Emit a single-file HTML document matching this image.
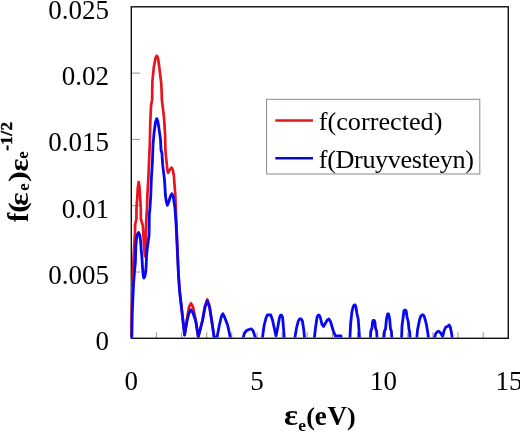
<!DOCTYPE html>
<html><head><meta charset="utf-8"><title>EEDF</title>
<style>
html,body{margin:0;padding:0;background:#fff;}
body{width:520px;height:431px;overflow:hidden;}
svg{display:block;font-family:"Liberation Serif",serif;}
.tl text{font-size:27px;fill:#000;}
.lg text{font-size:26.2px;fill:#000;}
.ax{font-weight:bold;fill:#000;}
</style></head><body>
<svg width="520" height="431" viewBox="0 0 520 431">
<rect width="520" height="431" fill="#fff"/>
<g stroke="#949494" stroke-width="1" fill="none"><line x1="156.4" y1="338.3" x2="156.4" y2="332.3"/><line x1="181.6" y1="338.3" x2="181.6" y2="332.3"/><line x1="206.7" y1="338.3" x2="206.7" y2="332.3"/><line x1="231.8" y1="338.3" x2="231.8" y2="332.3"/><line x1="257.0" y1="338.3" x2="257.0" y2="332.3"/><line x1="282.1" y1="338.3" x2="282.1" y2="332.3"/><line x1="307.2" y1="338.3" x2="307.2" y2="332.3"/><line x1="332.4" y1="338.3" x2="332.4" y2="332.3"/><line x1="357.5" y1="338.3" x2="357.5" y2="332.3"/><line x1="382.6" y1="338.3" x2="382.6" y2="332.3"/><line x1="407.8" y1="338.3" x2="407.8" y2="332.3"/><line x1="432.9" y1="338.3" x2="432.9" y2="332.3"/><line x1="458.0" y1="338.3" x2="458.0" y2="332.3"/><line x1="483.2" y1="338.3" x2="483.2" y2="332.3"/><line x1="131.3" y1="272.0" x2="140.3" y2="272.0"/><line x1="131.3" y1="205.7" x2="140.3" y2="205.7"/><line x1="131.3" y1="139.4" x2="140.3" y2="139.4"/><line x1="131.3" y1="73.1" x2="140.3" y2="73.1"/></g>
<rect x="131.3" y="6.8" width="377.0" height="331.5" fill="none" stroke="#111" stroke-width="1.4"/>
<clipPath id="cp"><rect x="0" y="0" width="520" height="337.6"/></clipPath>
<g clip-path="url(#cp)">
<polyline points="131.5,340.5 131.8,312.0 132.3,290.0 133.2,265.0 134.2,245.0 135.0,233.0 135.1,225.0 136.4,219.0 136.5,208.0 137.3,197.0 137.8,188.0 138.7,182.0 139.6,188.0 140.1,197.0 140.8,208.0 140.9,219.0 142.8,225.4 143.3,233.0 144.0,245.0 144.7,254.0 145.2,256.5 145.6,250.0 145.9,233.0 146.3,219.0 147.0,208.0 147.4,195.0 148.5,175.0 149.1,160.0 149.8,145.0 150.2,125.5 151.0,105.8 152.1,100.0 152.4,81.3 153.8,67.4 155.5,58.0 156.7,55.8 158.0,58.0 159.3,67.4 161.3,83.6 161.9,100.0 164.0,117.4 165.1,134.8 165.4,150.0 166.0,156.6 167.2,168.2 168.0,172.8 169.5,170.0 171.5,167.6 172.8,170.0 173.8,175.2 175.3,195.0 175.8,210.0 176.5,225.0 178.5,275.0 179.5,290.0 184.6,335.0 187.2,318.0 189.0,307.0 191.0,303.3 193.0,307.0 195.7,320.0 198.3,337.0 202.6,320.0 205.0,306.0 207.3,299.5 209.5,306.0 211.6,320.0 214.2,337.5" fill="none" stroke="#e8141e" stroke-width="2.7" stroke-linejoin="round" stroke-linecap="round"/>
<polyline points="131.8,340.5 132.2,315.0 132.8,300.0 133.5,285.0 134.6,270.0 135.4,262.0 135.8,247.0 136.5,238.0 137.5,234.0 138.6,232.5 139.8,235.0 140.7,242.0 141.2,250.0 141.9,257.0 142.7,270.0 143.3,276.0 143.9,278.0 144.8,276.5 145.7,272.0 146.2,265.0 146.6,255.0 147.3,248.0 149.1,235.0 149.3,215.0 150.0,208.0 150.8,195.0 151.3,180.0 152.4,162.4 153.0,145.0 154.1,132.5 155.5,122.0 156.7,118.6 157.8,121.0 158.7,126.7 160.5,139.4 161.0,150.0 161.9,153.0 162.8,165.9 164.5,179.8 165.4,195.0 166.2,201.0 167.4,205.3 168.7,202.0 170.5,196.0 171.9,193.7 173.3,197.0 175.0,208.2 176.1,225.0 178.5,275.0 179.5,290.0 184.6,335.0 187.2,320.0 189.0,313.0 191.0,309.8 193.0,313.0 195.7,321.0 198.3,337.0 202.6,320.0 205.0,307.0 207.3,301.0 209.5,307.0 211.6,320.0 214.2,337.5 217.0,337.5 219.4,325.0 221.5,316.0 222.9,313.8 224.5,317.0 227.6,325.0 231.0,340.5 242.4,340.5 244.5,333.0 246.5,330.6 249.0,329.5 251.1,328.9 253.0,330.5 256.3,340.5 262.1,340.5 264.0,326.0 266.0,318.0 267.3,315.0 270.8,315.0 272.5,320.0 276.0,336.0 278.0,326.0 279.5,317.5 280.5,315.2 281.6,315.2 282.6,317.5 283.5,328.0 284.5,340.5 294.4,340.5 296.5,328.0 298.3,321.0 299.6,319.0 301.2,319.0 302.4,321.0 303.8,330.0 304.8,340.5 314.1,340.5 315.5,328.0 317.0,317.5 318.1,315.2 319.3,315.2 320.3,317.5 322.0,324.5 323.5,326.5 325.5,323.0 327.3,320.0 328.9,319.0 330.5,321.5 333.0,330.0 335.3,336.0 341.0,336.0 341.0,340.5 349.8,340.5 350.6,324.0 351.9,312.0 353.2,306.5 354.2,305.0 355.2,305.0 356.0,307.5 357.0,314.0 358.2,319.0 359.0,330.0 359.7,340.5 370.2,340.5 370.8,331.0 372.0,328.0 372.6,322.0 373.2,320.3 374.2,320.3 374.9,322.0 375.5,328.0 376.6,331.0 377.2,340.5 383.8,340.5 384.5,331.0 385.5,329.0 386.5,319.0 387.6,314.0 388.6,314.0 389.7,319.0 390.5,329.0 391.4,331.0 391.9,340.5 401.5,340.5 402.0,326.0 403.2,317.0 403.9,311.0 404.5,310.1 405.6,310.1 406.2,311.0 407.0,317.0 408.3,322.0 409.0,329.5 409.7,332.0 410.1,340.5 416.6,340.5 417.5,330.0 419.5,320.0 420.8,316.0 421.9,315.0 423.3,315.0 424.2,316.3 425.3,320.0 426.5,325.0 427.8,333.0 428.8,340.5 434.0,340.5 435.5,334.0 437.0,332.0 438.6,331.2 440.3,332.5 442.7,336.5 444.0,331.0 445.8,327.0 447.5,326.5 449.1,325.0 450.3,327.0 451.5,333.0 452.6,340.5" fill="none" stroke="#0808f0" stroke-width="2.8" stroke-linejoin="round" stroke-linecap="round"/>
</g>
<g class="lg">
<rect x="266.6" y="99.3" width="213.2" height="74.7" fill="#fff" stroke="#8a8a8a" stroke-width="1"/>
<line x1="275.3" y1="120.5" x2="313" y2="120.5" stroke="#e01818" stroke-width="2.4"/>
<line x1="275.3" y1="158.2" x2="313" y2="158.2" stroke="#0a0ac8" stroke-width="2.4"/>
<text x="318.8" y="130">f(corrected)</text>
<text x="318.8" y="167.7" letter-spacing="-0.37">f(Druyvesteyn)</text>
</g>
<g class="tl"><text x="109" y="350.1" text-anchor="end">0</text><text x="109" y="283.8" text-anchor="end">0.005</text><text x="109" y="217.5" text-anchor="end">0.01</text><text x="109" y="151.2" text-anchor="end">0.015</text><text x="109" y="84.9" text-anchor="end">0.02</text><text x="109" y="18.6" text-anchor="end">0.025</text><text x="131.3" y="390.3" text-anchor="middle">0</text><text x="257.0" y="390.3" text-anchor="middle">5</text><text x="383.4" y="390.3" text-anchor="middle">10</text><text x="509.1" y="390.3" text-anchor="middle">15</text></g>
<g class="ax"><text transform="translate(284.00,425.20) scale(1.15,1.0)" font-size="28.5">ε</text><text transform="translate(298.20,430.60) scale(1.0,1.0)" font-size="17.5">e</text><text transform="translate(306.30,425.20) scale(1.0,1.0)" font-size="26">(</text><text transform="translate(314.70,425.20) scale(1.0,1.0)" font-size="27">e</text><text transform="translate(327.60,425.20) scale(1.0,1.0)" font-size="27">V</text><text transform="translate(347.00,425.20) scale(1.0,1.0)" font-size="26">)</text></g>
<g class="ax" transform="translate(28,222) rotate(-90)"><text transform="translate(-0.10,-0.30) scale(0.95,1.0)" font-size="29">f</text><text transform="translate(9.10,-2.00) scale(1.25,1.0)" font-size="26">(</text><text transform="translate(16.10,0.00) scale(1.18,1.0)" font-size="27">ε</text><text transform="translate(31.20,0.60) scale(1.0,1.0)" font-size="16.5">e</text><text transform="translate(39.90,-2.00) scale(1.25,1.0)" font-size="26">)</text><text transform="translate(50.60,0.00) scale(1.12,1.0)" font-size="27">ε</text><text transform="translate(63.30,0.40) scale(1.0,1.0)" font-size="16.5">e</text><text transform="translate(71.30,-16.20) scale(1.0,1.0)" font-size="17" letter-spacing="0.4" stroke="#000" stroke-width="0.4">-1/2</text></g>
</svg>
</body></html>
